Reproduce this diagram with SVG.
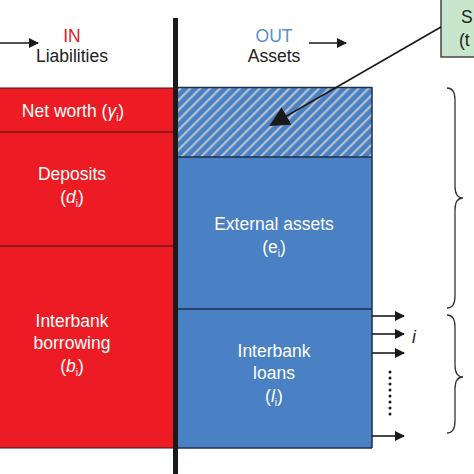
<svg xmlns="http://www.w3.org/2000/svg" width="474" height="474" viewBox="0 0 474 474">
<defs>
<pattern id="hatch" patternUnits="userSpaceOnUse" width="7" height="7" patternTransform="rotate(45)">
<rect width="7" height="7" fill="#4a80c4"/>
<rect x="0" y="0" width="2.2" height="7" fill="#b4c0cc"/>
</pattern>
<marker id="ah" viewBox="0 0 10 10" refX="9" refY="5" markerWidth="10" markerHeight="10" markerUnits="userSpaceOnUse" orient="auto">
<path d="M0,0 L10,5 L0,10 Z" fill="#1a1a1a"/>
</marker>
<marker id="big" viewBox="0 0 10 10" refX="9" refY="5" markerWidth="20" markerHeight="20" markerUnits="userSpaceOnUse" orient="auto">
<path d="M0,0 L10,5 L0,10 Z" fill="#1a1a1a"/>
</marker>
</defs>
<style>
text{font-family:"Liberation Sans",Arial,sans-serif;font-size:17.5px;text-anchor:middle}
.w{fill:#ffffff}
.k{fill:#222222}
.red{fill:#ed1c24}
.blu{fill:#4a80c4}
.sep{stroke:#3a1515;stroke-width:1.2}
.sepb{stroke:#1e2f48;stroke-width:1.5}
.con{stroke:#1a1a1a;stroke-width:1.6;fill:none}
.brace{stroke:#333;stroke-width:1.3;fill:none}
</style>
<rect width="474" height="474" fill="#ffffff"/>

<g id="liabilities">
<rect x="0" y="88" width="176" height="360" class="red"/>
<line x1="0" y1="88" x2="176" y2="88" class="sep"/>
<line x1="0" y1="132" x2="176" y2="132" class="sep"/>
<line x1="0" y1="246" x2="176" y2="246" class="sep"/>
<line x1="0" y1="448" x2="176" y2="448" class="sep"/>
</g>

<g id="net-worth">
<text x="73" y="117" class="w">Net worth (<tspan font-style="italic">γ</tspan><tspan font-size="10" dy="4">i</tspan><tspan dy="-4">)</tspan></text>
</g>
<g id="deposits">
<text x="72" y="180" class="w">Deposits</text>
<text x="72" y="203" class="w">(<tspan font-style="italic">d</tspan><tspan font-size="10" dy="4">i</tspan><tspan dy="-4">)</tspan></text>
</g>
<g id="interbank-borrowing">
<text x="72" y="327" class="w">Interbank</text>
<text x="72" y="349" class="w">borrowing</text>
<text x="72" y="372" class="w">(<tspan font-style="italic">b</tspan><tspan font-size="10" dy="4">i</tspan><tspan dy="-4">)</tspan></text>
</g>

<g id="assets">
<rect x="177" y="87" width="195" height="361" class="blu"/>
<rect x="177" y="87" width="195" height="70" fill="url(#hatch)"/>
<line x1="177" y1="87.5" x2="372" y2="87.5" class="sepb"/>
<line x1="177" y1="157" x2="372" y2="157" class="sepb"/>
<line x1="177" y1="309" x2="372" y2="309" class="sepb"/>
<line x1="177" y1="448" x2="372" y2="448" class="sepb"/>
<line x1="372" y1="87" x2="372" y2="448" class="sepb"/>
</g>
<g id="external-assets">
<text x="274" y="230" class="w">External assets</text>
<text x="274" y="253" class="w">(e<tspan font-size="10" dy="4">i</tspan><tspan dy="-4">)</tspan></text>
</g>
<g id="interbank-loans">
<text x="274" y="357" class="w">Interbank</text>
<text x="274" y="379" class="w">loans</text>
<text x="274" y="402" class="w">(<tspan font-style="italic">l</tspan><tspan font-size="10" dy="4">i</tspan><tspan dy="-4">)</tspan></text>
</g>

<g id="divider">
<rect x="173" y="18" width="5" height="456" fill="#1a1a1a"/>
</g>

<g id="header-in">
<text x="72" y="42" fill="#e0202a">IN</text>
<text x="72" y="62" class="k">Liabilities</text>
</g>
<g id="header-out">
<text x="274" y="42" fill="#5b8fcb">OUT</text>
<text x="274" y="62" class="k">Assets</text>
</g>

<g id="shock">
<rect x="441" y="-2" width="40" height="59" fill="#c8e6cc" stroke="#444" stroke-width="1.5"/>
<text x="461" y="23" class="k" style="text-anchor:start">S</text>
<text x="459" y="46" class="k" style="text-anchor:start">(t</text>
</g>

<g id="braces">
<path class="brace" d="M447,88 Q455,88 455,100 L455,186 Q455,198 463,198 Q455,198 455,210 L455,296 Q455,308 447,308"/>
<path class="brace" d="M447,315 Q455,315 455,327 L455,365 Q455,377 463,377 Q455,377 455,389 L455,421 Q455,433 447,433"/>
</g>

<g id="connectors">
<line x1="0" y1="43" x2="38" y2="43" class="con" marker-end="url(#ah)"/>
<line x1="309" y1="43" x2="346" y2="43" class="con" marker-end="url(#ah)"/>
<line x1="441" y1="27" x2="271" y2="125" class="con" stroke-width="2.2" marker-end="url(#big)"/>
<line x1="372" y1="316" x2="404" y2="316" class="con" marker-end="url(#ah)"/>
<line x1="372" y1="334" x2="404" y2="334" class="con" marker-end="url(#ah)"/>
<line x1="372" y1="353" x2="404" y2="353" class="con" marker-end="url(#ah)"/>
<line x1="372" y1="436" x2="404" y2="436" class="con" marker-end="url(#ah)"/>
<line x1="390" y1="372" x2="390" y2="416" stroke="#1a1a1a" stroke-width="3" stroke-linecap="round" stroke-dasharray="0 6"/>
</g>
<g id="label-i">
<text x="414" y="343" class="k" font-style="italic">i</text>
</g>
</svg>
